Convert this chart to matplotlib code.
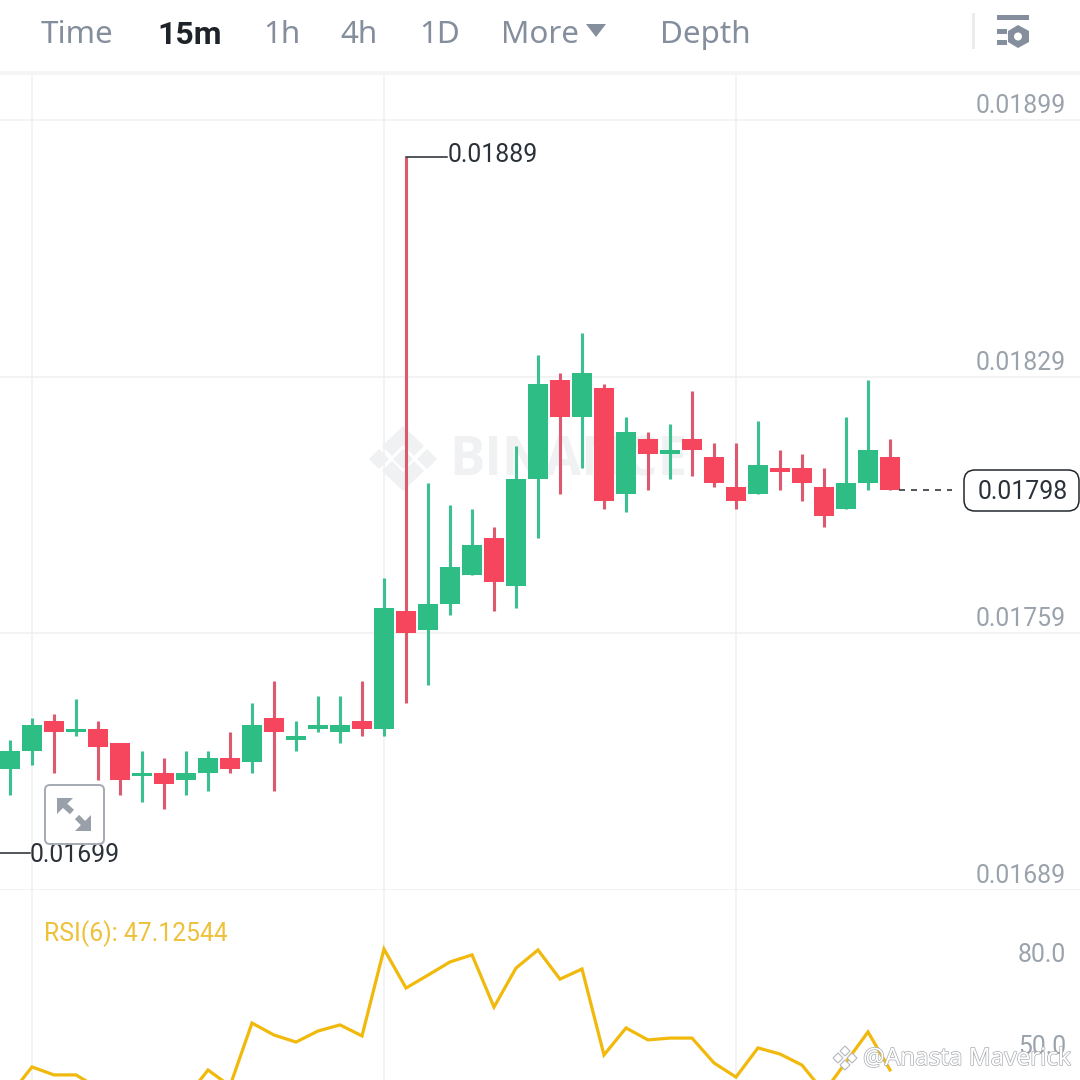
import matplotlib
matplotlib.use('Agg')
import matplotlib.pyplot as plt
import matplotlib.patheffects as pe
from matplotlib.patches import FancyBboxPatch, Polygon, Rectangle, Circle

# valores, en unidades de 0.00001
opens = [1722, 1727, 1735, 1732, 1733, 1729, 1720, 1721, 1719, 1721, 1725, 1724, 1736, 1730, 1733, 1732, 1735,
         1733, 1765, 1760, 1767, 1775, 1785, 1772, 1801, 1828, 1818, 1826, 1797, 1812, 1808, 1812, 1807, 1799,
         1797, 1804, 1804, 1799, 1793, 1800, 1807]
closes = [1727, 1734, 1732, 1733, 1728, 1719, 1721, 1718, 1721, 1725, 1722, 1734, 1732, 1731, 1734, 1734, 1733,
          1766, 1759, 1767, 1777, 1783, 1773, 1801, 1827, 1818, 1830, 1795, 1814, 1808, 1809, 1809, 1800, 1795,
          1805, 1803, 1800, 1791, 1800, 1809, 1798]
highs = [1730, 1736, 1737, 1741, 1735, 1729, 1727, 1725, 1727, 1727, 1732, 1740, 1746, 1735, 1742, 1742, 1746,
         1774, 1889, 1800, 1794, 1793, 1788, 1810, 1835, 1830, 1841, 1827, 1818, 1814, 1816, 1825, 1811, 1811,
         1817, 1809, 1808, 1804, 1818, 1828, 1812]
lows = [1715, 1723, 1721, 1731, 1719, 1715, 1713, 1711, 1715, 1716, 1721, 1721, 1716, 1727, 1732, 1729, 1731,
        1731, 1740, 1745, 1764, 1775, 1765, 1766, 1785, 1797, 1804, 1793, 1792, 1798, 1801, 1802, 1799, 1793,
        1797, 1798, 1795, 1788, 1793, 1798, 1798]
rsi = [39.0, 48.1, 45.5, 45.5, 41.2, 37.3, 36.7, 34.7, 38.0, 47.1, 41.9, 62.4, 58.5, 56.2, 59.8, 61.8, 58.2,
       86.5, 73.8, 78.0, 82.3, 84.6, 67.6, 80.3, 86.2, 76.7, 80.0, 52.0, 60.8, 56.9, 57.5, 57.5, 49.4, 44.8,
       54.3, 52.3, 48.7, 39.9, 49.7, 59.5, 47.12544]

price_ticks = [1899, 1829, 1759, 1689]
price_labels = ['0.01899', '0.01829', '0.01759', '0.01689']
rsi_ticks = [80.0, 50.0]
time_ticks = [1, 17, 33]
tabs = ['Time', '15m', '1h', '4h', '1D', 'More', 'Depth']
tab_x = [41, 157, 263, 340, 419, 501, 660]

GREEN = '#2EBD85'
RED = '#F6465D'
GREY = '#9AA2AC'
TAB_GREY = '#848E9C'
DARK = '#1E2329'
LINE = '#EEF0F2'
PX = 0.72  # 1 px en puntos a dpi 100

plt.rcParams['font.family'] = ['Roboto', 'DejaVu Sans']

fig = plt.figure(figsize=(10.8, 10.8), dpi=100)


def px_axes(top, bottom, zorder):
    return fig.add_axes([0, 1 - bottom / 1080, 1, (bottom - top) / 1080], zorder=zorder)


# fondo en pixeles: cabecera y marca de agua
bg = px_axes(0, 1080, 0)
bg.set_xlim(0, 1080)
bg.set_ylim(1080, 0)
bg.axis('off')
bg.add_patch(Rectangle((0, 71), 1080, 4, color='#F5F5F5', lw=0))
bg.plot([973, 973], [14, 47], color='#EAECEF', lw=3 * PX)

for name, x in zip(tabs, tab_x):
    if name == '15m':
        bg.text(x, 35, name, fontsize=23, va='center', color=DARK, fontweight='bold', family='Roboto')
    else:
        bg.text(x, 35, name, fontsize=22.6, va='center', color=TAB_GREY, family='Noto Sans')
bg.add_patch(Polygon([(586, 24), (606, 24), (596, 37)], color=TAB_GREY, lw=0))

# icono de ajustes
bg.add_patch(Rectangle((997, 15), 32, 5, color=TAB_GREY, lw=0))
bg.add_patch(Rectangle((997, 29), 10, 5, color=TAB_GREY, lw=0))
bg.add_patch(Rectangle((997, 40), 10, 5, color=TAB_GREY, lw=0))
bg.add_patch(Polygon([(1018, 25), (1029, 31), (1029, 42), (1018, 48), (1008, 42), (1008, 31)],
                     color=TAB_GREY, lw=0))
bg.add_patch(Circle((1018, 36.5), 4, color='white', lw=0))

# marca de agua
wm = '#F0F1F2'
bg.add_patch(Polygon([(403, 426), (424, 446), (414, 456), (403, 445), (392, 456), (382, 446)], color=wm, lw=0))
bg.add_patch(Polygon([(403, 491), (424, 471), (414, 461), (403, 472), (392, 461), (382, 471)], color=wm, lw=0))
bg.add_patch(Polygon([(403, 449), (413, 459), (403, 469), (393, 459)], color=wm, lw=0))
bg.add_patch(Polygon([(379, 449), (389, 459), (379, 469), (369, 459)], color=wm, lw=0))
bg.add_patch(Polygon([(427, 449), (437, 459), (427, 469), (417, 459)], color=wm, lw=0))
bg.text(449, 461, 'BINANCE', fontsize=38, fontweight='bold', color=wm, va='center', family='Open Sans')

# velas
xlim = (-10 / 22, 1070 / 22)
ax = px_axes(75, 890, 1)
ax.patch.set_alpha(0)
ax.set_xlim(xlim)
ax.set_ylim(1689, 1899 + (120 - 75) / (770 / 210))
for s in ax.spines.values():
    s.set_visible(False)
ax.tick_params(length=0, labelleft=False, labelbottom=False)
ax.set_yticks(price_ticks)
ax.set_xticks(time_ticks)
ax.grid(True, color=LINE, lw=1.5 * PX)
ax.set_axisbelow(True)

xs = list(range(len(opens)))
for i in xs:
    color = GREEN if closes[i] >= opens[i] else RED
    wick = '#3CC08F' if closes[i] >= opens[i] else '#DC5A70'
    ax.vlines(i, lows[i], highs[i], color=wick, lw=3.1 * PX, zorder=2)
    bottom = min(opens[i], closes[i])
    ax.bar(i, abs(closes[i] - opens[i]), bottom=bottom, width=20 / 22, color=color, zorder=3)

for p, label in zip(price_ticks, price_labels):
    ax.annotate(label, (48, p), xytext=(0, 14 * PX), textcoords='offset points', ha='right', va='center',
                fontsize=17.8, color=GREY, annotation_clip=False)

# maximo, minimo y ultimo precio
ax.plot([18, 18 + 41 / 22], [1889, 1889], color=DARK, lw=1.5 * PX, zorder=4)
ax.text(18 + 42 / 22, 1889.5, '0.01889', fontsize=17.8, color='#2B3139', va='center')
ax.plot([xlim[0], 20 / 22], [1699, 1699], color=DARK, lw=1.5 * PX, zorder=4)
ax.text(20 / 22, 1698.5, '0.01699', fontsize=17.8, color='#2B3139', va='center')
ax.plot([40.4, 42.8], [1798, 1798], color=DARK, lw=1.5 * PX, ls=(0, (4, 4)), zorder=4)

# RSI
ax2 = px_axes(890, 1080, 1)
ax2.patch.set_alpha(0)
ax2.set_xlim(xlim)
ax2.set_ylim(80 - 111 / 3.07, 80 + 79 / 3.07)
for s in ax2.spines.values():
    s.set_visible(False)
ax2.tick_params(length=0, labelleft=False, labelbottom=False)
ax2.set_yticks([])
ax2.set_xticks(time_ticks)
ax2.grid(True, axis='x', color=LINE, lw=1.5 * PX)
ax2.set_axisbelow(True)
ax2.plot(xs, rsi, color='#F0B90B', lw=3.2 * PX, solid_joinstyle='miter', zorder=3)
for v in rsi_ticks:
    ax2.annotate('%.1f' % v, (48, v), xytext=(0, 14 * PX), textcoords='offset points', ha='right', va='center',
                 fontsize=17.8, color=GREY, annotation_clip=False, zorder=2)

# capa superior en pixeles
top = px_axes(0, 1080, 3)
top.patch.set_alpha(0)
top.set_xlim(0, 1080)
top.set_ylim(1080, 0)
top.axis('off')

top.text(44, 934, 'RSI(6): 47.12544', fontsize=17.8, color='#EDC13A', va='center')

top.add_patch(FancyBboxPatch((964, 470), 115, 41, boxstyle='round,pad=0,rounding_size=11', mutation_aspect=1,
                             fc='white', ec=DARK, lw=1.5 * PX))
top.text(978, 492, '0.01798', fontsize=17.8, color='#2B3139', va='center')

# boton de pantalla completa
top.add_patch(FancyBboxPatch((45, 785), 59, 59, boxstyle='round,pad=0,rounding_size=5',
                             fc='white', ec='#A6ABB4', lw=2 * PX))
for tri, stem in [([(57, 798), (73, 798), (57, 814)], [(62, 803), (72, 812)]),
                  ([(91, 831), (75, 831), (91, 815)], [(86, 826), (77, 817)])]:
    top.add_patch(Polygon(tri, color='#9AA0AA', lw=0))
    top.plot([stem[0][0], stem[1][0]], [stem[0][1], stem[1][1]], color='#9AA0AA', lw=6 * PX,
             solid_capstyle='butt')

# marca de agua del autor
stroke = [pe.withStroke(linewidth=1.0, foreground='#A8ABB0')]
t = top.text(863, 1059, '@Anasta Maverick', fontsize=17.4, color='white', va='center', family='Noto Sans')
t.set_path_effects(stroke)
for cx, cy in [(845, 1051), (838, 1058), (852, 1058), (845, 1065)]:
    top.add_patch(Polygon([(cx, cy - 5), (cx + 5, cy), (cx, cy + 5), (cx - 5, cy)], fc='white', ec='#B4B7BC', lw=0.8))

fig.savefig('out.png', dpi=100, facecolor='white')
